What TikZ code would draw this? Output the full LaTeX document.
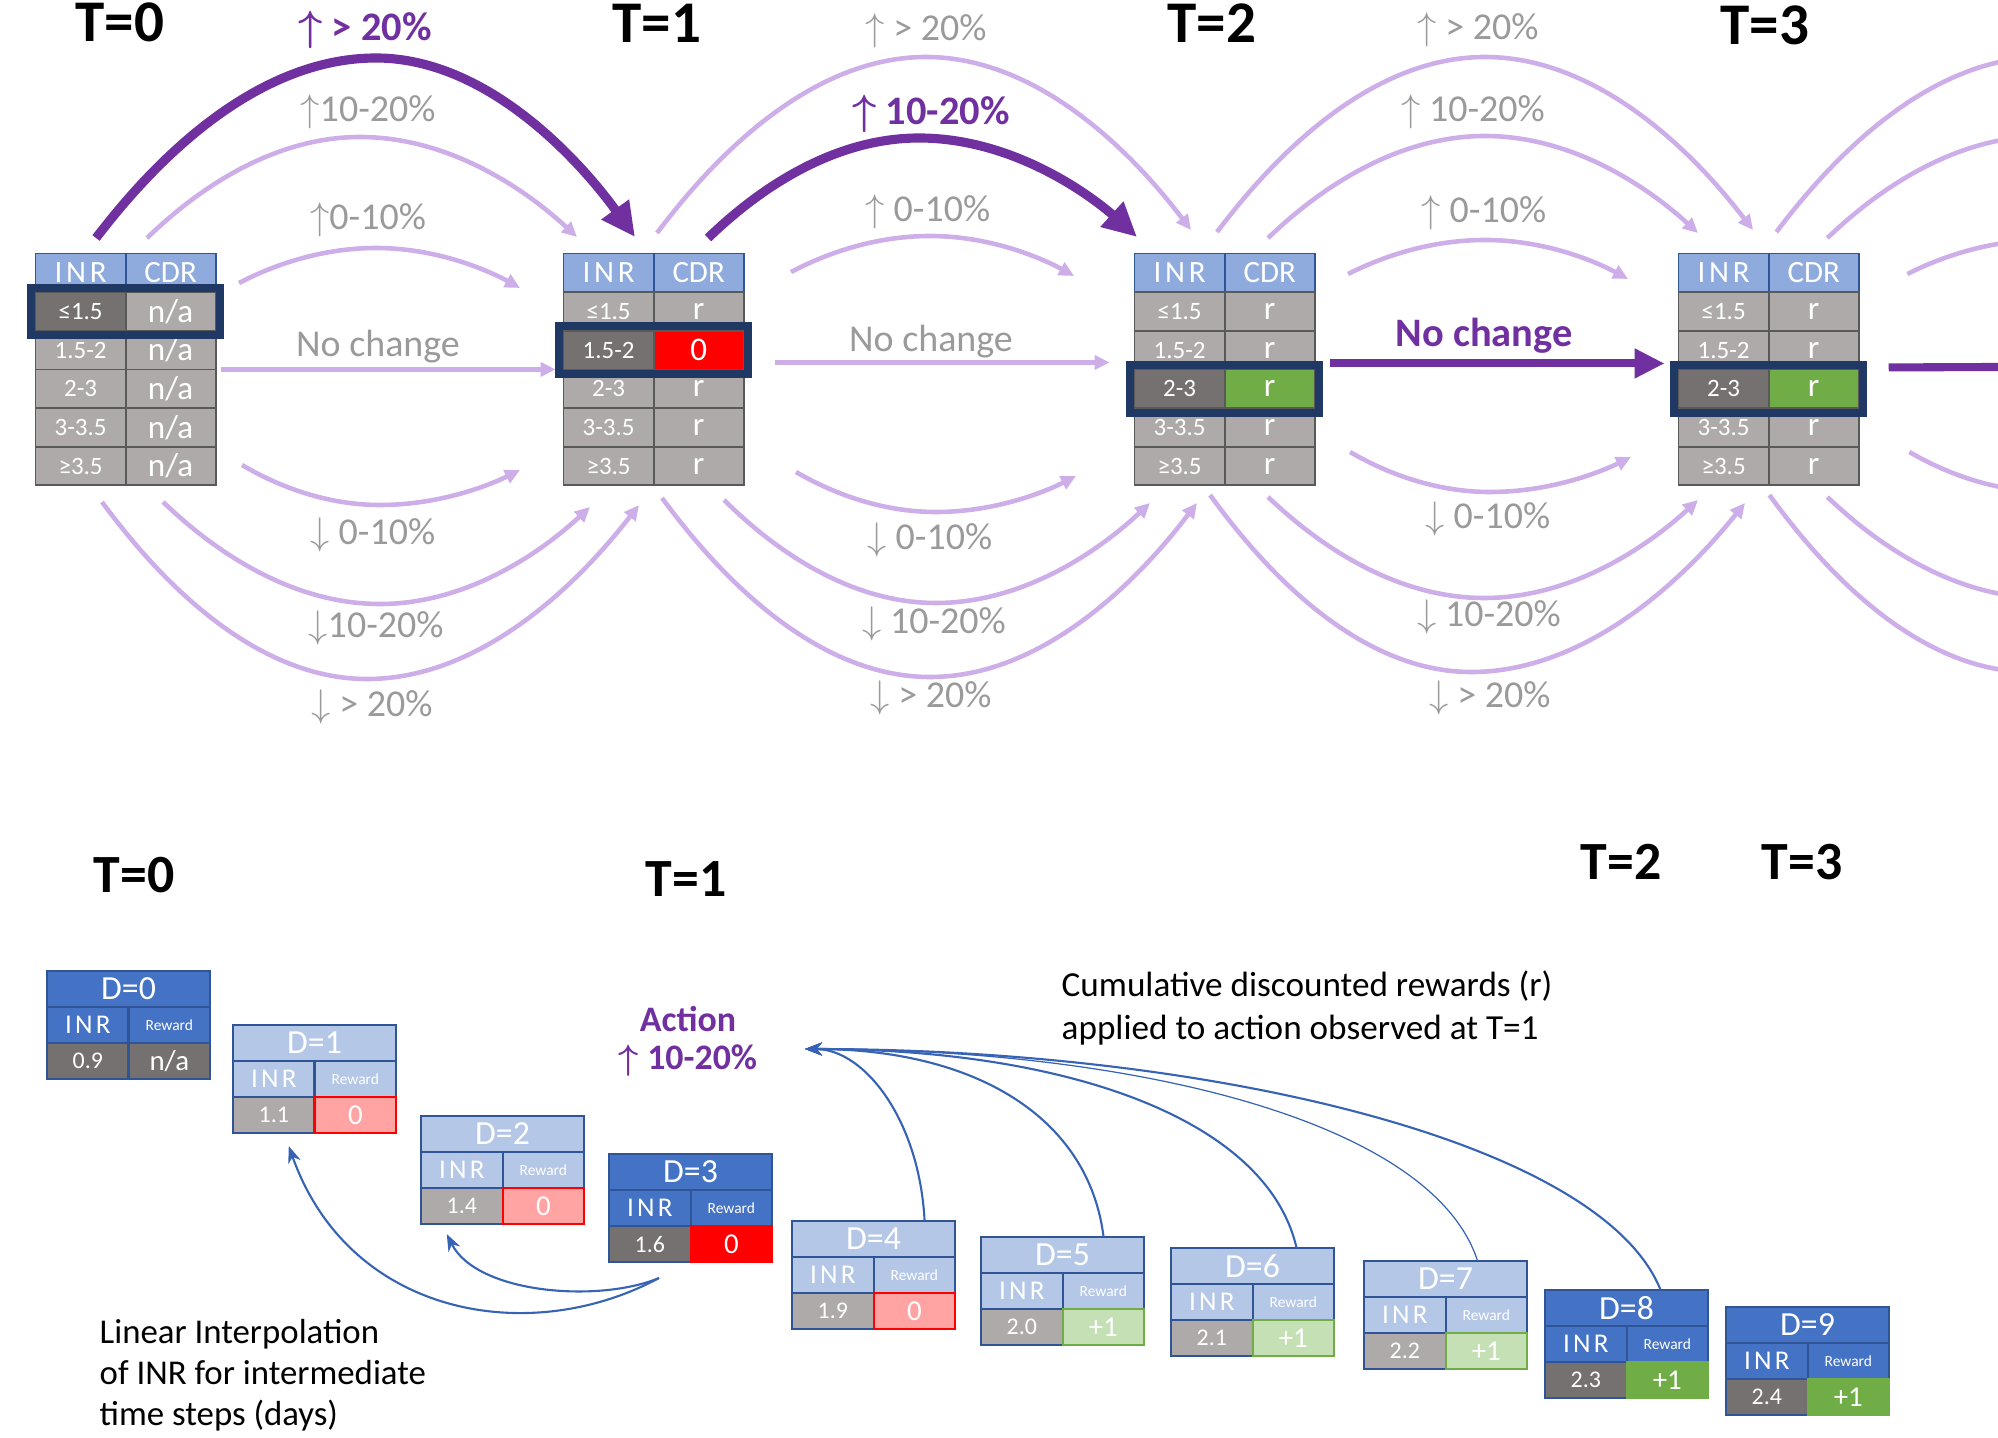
\documentclass[tikz,border=0pt]{standalone}
\usepackage{amsmath}
\usepackage{fontspec}
\setmainfont{Carlito}
\usetikzlibrary{matrix,arrows.meta,fit}

\definecolor{lpurple}{HTML}{CDAEE8}
\definecolor{dpurple}{HTML}{7030A0}
\definecolor{lblgray}{HTML}{9A9A9A}
\definecolor{hdblue}{HTML}{8FAADC}
\definecolor{hdline}{HTML}{2F5597}
\definecolor{cellgray}{HTML}{AEAAAA}
\definecolor{cellline}{HTML}{595959}
\definecolor{inrdark}{HTML}{757171}
\definecolor{hlnavy}{HTML}{1F3864}
\definecolor{mgreen}{HTML}{70AD47}
\definecolor{boxblue}{HTML}{4472C4}
\definecolor{boxlight}{HTML}{B4C7E7}
\definecolor{pinkred}{HTML}{FFA3A3}
\definecolor{lgreen}{HTML}{C5E0B4}
\definecolor{linkblue}{HTML}{3763B5}

\newcommand{\inrtxt}{I\kern0.12em N\kern0.12em R}

\begin{document}
\begin{tikzpicture}[x=0.01cm,y=-0.01cm]
  \tikzset{
    lightarc/.style={draw=lpurple, line width=1.3pt, -{Triangle[length=0.15cm,width=0.14cm]}},
    boldarc/.style={draw=dpurple, line width=2.6pt, -{Triangle[length=0.34cm,width=0.32cm]}},
    lbl/.style={text=lblgray, font=\fontsize{10.8}{13}\selectfont, inner sep=0pt},
    plbl/.style={text=dpurple, font=\fontsize{11.5}{14}\selectfont\bfseries, inner sep=0pt},
    ttl/.style={font=\fontsize{16.8}{20}\selectfont\bfseries, anchor=base, inner sep=0pt},
    bcell/.style={draw=cellline, fill=cellgray, text=white, line width=0.5pt, anchor=center,
      minimum width=0.9cm, minimum height=0.386cm, inner sep=0pt, outer sep=0pt},
    hcell/.style={draw=hdline, fill=hdblue, font=\fontsize{8.8}{10}\selectfont},
    inrhl/.style={fill=inrdark},
    redc/.style={fill=red},
    grnc/.style={fill=mgreen},
    tbl/.style={matrix of nodes, nodes={bcell}, inner sep=0pt, column sep=-0.5pt, row sep=-0.5pt,
      column 1/.style={nodes={font=\fontsize{7.1}{8}\selectfont}},
      column 2/.style={nodes={font=\fontsize{9.4}{10}\selectfont}}},
    hlframe/.style={draw=hlnavy, line width=2.3pt, inner sep=0.045cm, outer sep=0pt},
    dcell/.style={text=white, line width=0.6pt, minimum width=0.815cm, minimum height=0.36cm,
      inner sep=0pt, outer sep=0pt, font=\fontsize{7.7}{9}\selectfont},
    dtitle/.style={dcell, minimum width=1.63cm, font=\fontsize{9.6}{11}\selectfont},
    dkhd/.style={fill=boxblue, draw=hdline},
    lthd/.style={fill=boxlight, draw=hdline},
    dkval/.style={fill=inrdark, draw=hdline},
    ltval/.style={fill=cellgray, draw=hdline},
    naval/.style={fill=inrdark, draw=hdline},
    pinkval/.style={fill=pinkred, draw=red},
    redval/.style={fill=red, draw=red},
    lgrnval/.style={fill=lgreen, draw=mgreen},
    grnval/.style={fill=mgreen, draw=mgreen},
    link/.style={draw=linkblue, line width=0.6pt, -{Stealth[length=0.17cm,width=0.13cm]}},
    note/.style={align=left, anchor=west, inner sep=0pt, font=\fontsize{10}{12.2}\selectfont}
  }
  \useasboundingbox (0,0) rectangle (1998,1437);

  % time steps
  \node[ttl] (tt0) at (120,42) {T=0};
  \node[ttl] (tt1) at (657,43) {T=1};
  \node[ttl] (tt2) at (1212,43) {T=2};
  \node[ttl] (tt3) at (1765,45) {T=3};

  % state tables
  \matrix (t0) [tbl, anchor=north west] at (34,252) {
    |[hcell]| \inrtxt & |[hcell]| CDR \\
    |[inrhl]| ≤1.5 & n/a \\
    1.5-2 & n/a \\
    2-3 & n/a \\
    3-3.5 & n/a \\
    ≥3.5 & n/a \\
  };
  \matrix (t1) [tbl, anchor=north west] at (562,252) {
    |[hcell]| \inrtxt & |[hcell]| CDR \\
    ≤1.5 & r \\
    |[inrhl]| 1.5-2 & |[redc]| 0 \\
    2-3 & r \\
    3-3.5 & r \\
    ≥3.5 & r \\
  };
  \matrix (t2) [tbl, anchor=north west] at (1133,252) {
    |[hcell]| \inrtxt & |[hcell]| CDR \\
    ≤1.5 & r \\
    1.5-2 & r \\
    |[inrhl]| 2-3 & |[grnc]| r \\
    3-3.5 & r \\
    ≥3.5 & r \\
  };
  \matrix (t3) [tbl, anchor=north west] at (1677,252) {
    |[hcell]| \inrtxt & |[hcell]| CDR \\
    ≤1.5 & r \\
    1.5-2 & r \\
    |[inrhl]| 2-3 & |[grnc]| r \\
    3-3.5 & r \\
    ≥3.5 & r \\
  };
  \node[hlframe, fit=(t0-2-1)(t0-2-2)] (h0) {};
  \node[hlframe, fit=(t1-3-1)(t1-3-2)] (h1) {};
  \node[hlframe, fit=(t2-4-1)(t2-4-2)] (h2) {};
  \node[hlframe, fit=(t3-4-1)(t3-4-2)] (h3) {};

  % transitions
  \foreach \sx/\sy/\bx/\by/\ex/\ey in {
      147/238/360/137/577/237, 239/283/376/248/520/288,
      242/465/380/505/520/470, 163/502/380/604/590/507, 102/502/367/679/639/505,
      657/233/926/57/1191/230, 791/272/930/236/1074/276,
      796/472/936/512/1076/476, 724/500/936/603/1150/503, 662/498/930/677/1197/503,
      1217/232/1485/57/1753/230, 1268/238/1485/136/1698/233, 1348/274/1485/240/1628/279,
      1350/452/1490/492/1631/457, 1268/497/1484/598/1698/500, 1210/495/1471/672/1745/503}
    \draw[lightarc] (\sx,\sy) parabola bend (\bx,\by) (\ex,\ey);
  \draw[boldarc] (96,238) parabola bend (376,58) (635,237);
  \draw[boldarc] (708,238) parabola bend (919,138) (1137,237);
  \draw[lightarc] ([xshift=0.05cm]t0-4-2.north east) -- ([xshift=-0.08cm]t1-4-1.north west);
  \draw[lightarc] ([shift={(0.31cm,0.07cm)}]t1-4-2.north east) -- ([shift={(-0.25cm,0.07cm)}]t2-4-1.north west);
  \draw[boldarc, -{Triangle[length=0.3cm,width=0.28cm]}, line width=2.3pt]
    ([shift={(0.15cm,0.06cm)}]t2-4-2.north east) -- ([shift={(-0.14cm,0.06cm)}]t3-4-1.north west);
  \begin{scope}
    \clip (0,0) rectangle (1998,1437);
    \begin{scope}[xshift=5.59cm]
      \foreach \sx/\sy/\bx/\by/\ex/\ey in {
          1217/232/1485/57/1753/230, 1268/238/1485/136/1698/233, 1348/274/1485/240/1628/279,
          1350/452/1490/492/1631/457, 1268/497/1484/598/1698/500, 1210/495/1471/672/1745/503}
        \draw[lightarc] (\sx,\sy) parabola bend (\bx,\by) (\ex,\ey);
    \end{scope}
    \draw[boldarc, line width=2.3pt] ([shift={(0.3cm,0.02cm)}]t3-4-2.north east) -- (2222,366);
  \end{scope}

  % labels
  \foreach \x/\y/\t [count=\i] in {
      368/112/{$\uparrow$10-20\%}, 368/220/{$\uparrow$0-10\%}, 378/347/{No change},
      373/535/{$\downarrow$ 0-10\%}, 376/628/{$\downarrow$10-20\%}, 372/707/{$\downarrow$ > 20\%},
      926/31/{$\uparrow$ > 20\%}, 928/212/{$\uparrow$ 0-10\%}, 931/342/{No change},
      930/540/{$\downarrow$ 0-10\%}, 934/624/{$\downarrow$ 10-20\%}, 931/698/{$\downarrow$ > 20\%},
      1478/30/{$\uparrow$ > 20\%}, 1473/112/{$\uparrow$ 10-20\%}, 1484/213/{$\uparrow$ 0-10\%},
      1488/519/{$\downarrow$ 0-10\%}, 1489/617/{$\downarrow$ 10-20\%}, 1490/698/{$\downarrow$ > 20\%}}
    \node[lbl] (g\i) at (\x,\y) {\t};
  \node[plbl] (p1) at (365,30) {$\boldsymbol{\uparrow}$ > 20\%};
  \node[plbl] (p2) at (931,114) {$\boldsymbol{\uparrow}$ 10-20\%};
  \node[plbl] (p3) at (1484,336) {No change};

  % daily steps
  \node[ttl, font=\fontsize{15.3}{18}\selectfont\bfseries] (bt0) at (134,892) {T=0};
  \node[ttl, font=\fontsize{15.3}{18}\selectfont\bfseries] (bt1) at (686,896) {T=1};
  \node[ttl, font=\fontsize{15.3}{18}\selectfont\bfseries] (bt2) at (1621,879) {T=2};
  \node[ttl, font=\fontsize{15.3}{18}\selectfont\bfseries] (bt3) at (1802,879) {T=3};

  \foreach \n/\px/\py/\val/\rew/\hd/\vs/\rs in {
      0/47/971/0.9/{n/a}/dkhd/dkval/naval,
      1/233/1025/1.1/0/lthd/ltval/pinkval,
      2/421/1116/1.4/0/lthd/ltval/pinkval,
      3/609/1154/1.6/0/dkhd/dkval/redval,
      4/792/1221/1.9/0/lthd/ltval/pinkval,
      5/981/1237/2.0/+1/lthd/ltval/lgrnval,
      6/1171/1248/2.1/+1/lthd/ltval/lgrnval,
      7/1364/1261/2.2/+1/lthd/ltval/lgrnval,
      8/1545/1290/2.3/+1/dkhd/dkval/grnval,
      9/1726/1307/2.4/+1/dkhd/dkval/grnval}{
    \node[dtitle, \hd, anchor=north west] (d\n) at (\px,\py) {D=\n};
    \node[dcell, \hd, anchor=north west] (d\n-i) at (d\n.south west) {\inrtxt};
    \node[dcell, \hd, anchor=north west, font=\fontsize{4.4}{5}\selectfont] (d\n-r) at (d\n-i.north east) {Reward};
    \node[dcell, \vs, anchor=north west, font=\fontsize{6.8}{8}\selectfont] (d\n-v) at (d\n-i.south west) {\val};
    \node[dcell, \rs, anchor=north west, font=\fontsize{8.2}{9}\selectfont] (d\n-w) at (d\n-v.north east) {\rew};
  }

  \node[plbl, font=\fontsize{10.2}{12}\selectfont\bfseries] (act) at (688,1019) {Action};
  \node[plbl, font=\fontsize{10.2}{12}\selectfont\bfseries] (actv) at (688,1061) {$\boldsymbol{\uparrow}$ 10-20\%};
  \coordinate (tgt) at (805,1049);
  \node[note] (cum) at (1061,1008) {Cumulative discounted rewards (r)\\applied to action observed at T=1};
  \node[note, font=\fontsize{9.9}{11.7}\selectfont] (lin) at (99,1375) {Linear Interpolation\\of INR for intermediate\\time steps (days)};

  % rewards back to the action
  \foreach \n/\s/\cx/\cy/\dx/\w in {4/0.51/-5/-100/60/0.6pt, 5/0.41/-15/-120/170/0.6pt,
      6/0.44/-30/-130/260/0.6pt, 7/0.32/-45/-140/330/0.35pt, 8/0.34/-60/-150/400/0.6pt}
    \draw[link, line width=\w] ([xshift=\s cm]d\n.north) .. controls +(\cx,\cy) and +(\dx,0) .. (tgt);

  % interpolation
  \coordinate (ip) at (659,1278);
  \draw[link] (ip) .. controls +(-130,70) and +(60,170) .. ([shift={(0.15cm,-0.13cm)}]d1-v.south);
  \draw[link] (ip) .. controls +(-60,25) and +(30,60) .. ([shift={(-0.15cm,-0.1cm)}]d2-v.south);
\end{tikzpicture}
\end{document}
